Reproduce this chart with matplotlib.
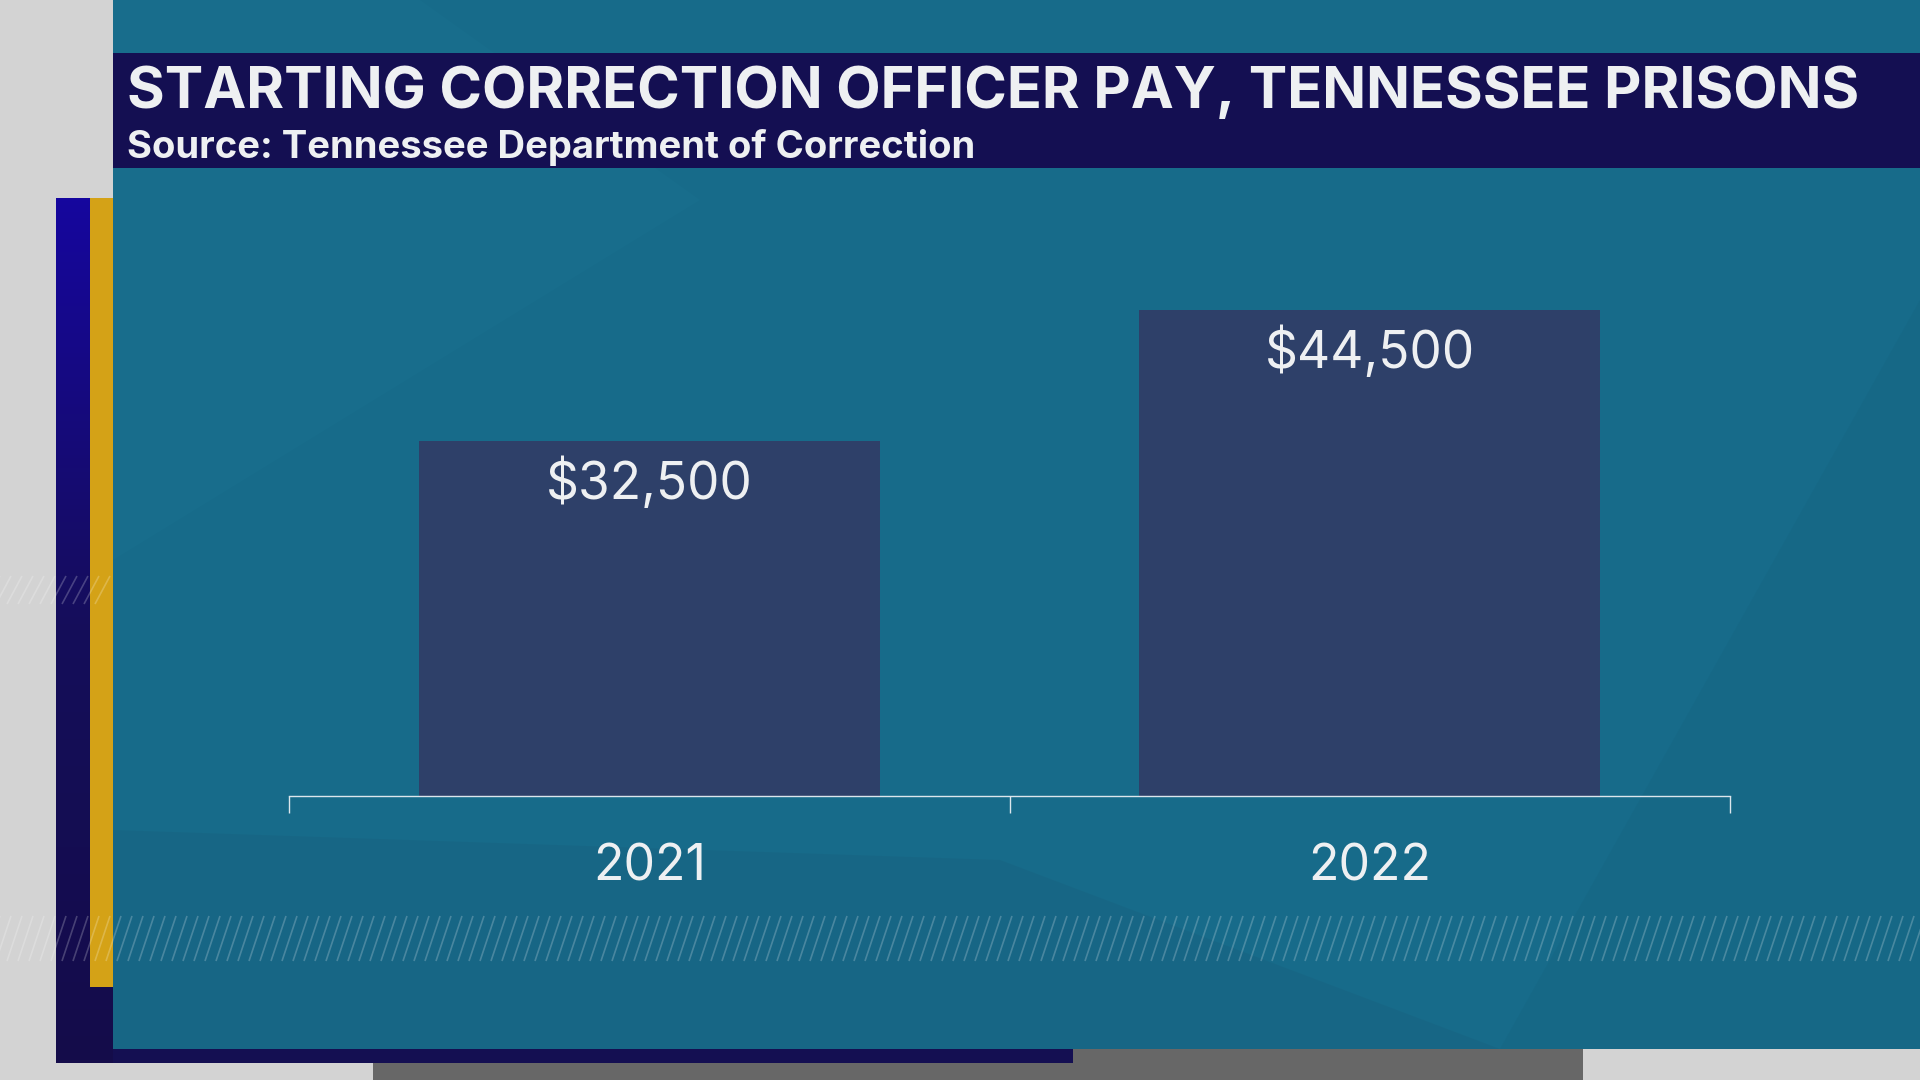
import numpy as np
import matplotlib.pyplot as plt
from matplotlib.patches import Rectangle
from matplotlib.collections import LineCollection
from matplotlib.colors import LinearSegmentedColormap

years = ["2021", "2022"]
pay = [32500, 44500]
pay_labels = ["$32,500", "$44,500"]

title = "STARTING CORRECTION OFFICER PAY, TENNESSEE PRISONS"
subtitle = "Source: Tennessee Department of Correction"

W, H = 1920, 1080
teal = "#176b8a"
navy = "#140f52"
bar_color = "#2e4069"
gold = "#d4a217"
light_gray = "#d3d3d3"
dark_gray = "#676767"
text_color = "#eef0f2"

fig = plt.figure(figsize=(W / 100, H / 100), dpi=100)
fig.patch.set_facecolor(light_gray)

# background / decoration layer in pixel coordinates (y from top)
bg = fig.add_axes([0, 0, 1, 1])
bg.set_xlim(0, W)
bg.set_ylim(H, 0)
bg.axis("off")

bg.add_patch(Rectangle((373, 1049), 1583 - 373, 31, color=dark_gray, lw=0))
bg.add_patch(Rectangle((113, 0), W - 113, 1049, color=teal, lw=0))
# faint shapes in the teal panel
bg.fill([113, 700, 420, 113], [560, 200, 0, 0], color="#1a7391", alpha=0.35, lw=0)
bg.fill([1500, 1920, 1920, 1250], [1049, 300, 1049, 1049], color="#156480", alpha=0.35, lw=0)
bg.fill([113, 1000, 1500, 113], [830, 860, 1049, 1049], color="#175f7c", alpha=0.35, lw=0)

bg.add_patch(Rectangle((56, 1049), 1073 - 56, 14, color=navy, lw=0))
grad = np.linspace(0, 1, 256).reshape(-1, 1)
blue_cmap = LinearSegmentedColormap.from_list("blue", ["#15069e", "#150e5a", "#140c4a"])
bg.imshow(grad, cmap=blue_cmap, extent=(56, 113, 1063, 198), aspect="auto", zorder=2)
bg.add_patch(Rectangle((90, 198), 23, 987 - 198, color=gold, lw=0, zorder=3))

# title band
bg.add_patch(Rectangle((113, 53), W - 113, 115, color=navy, lw=0, zorder=3))
bg.text(127, 93, title, color=text_color, fontsize=41.5, fontweight="bold",
        family="Inter", va="center", ha="left", zorder=4)
bg.text(127, 147, subtitle, color=text_color, fontsize=27.5, fontweight="bold",
        family="Inter", va="center", ha="left", zorder=4)

# diagonal stripe bands
def stripes(x0, x1, y0, y1, step=11, slant=15):
    segs = [[(x, y1), (x + slant, y0)] for x in np.arange(x0 - slant, x1 - slant, step)]
    bg.add_collection(LineCollection(segs, colors="white", alpha=0.22, lw=1.2, zorder=5))

stripes(0, W + 15, 916, 961)
stripes(0, 113, 576, 604)

# chart axes
ax = fig.add_axes([289 / W, 1 - 796 / H, (1730 - 289) / W, (796 - 245) / H])
ax.patch.set_alpha(0)
x = np.arange(len(years))
ax.bar(x, pay, width=0.64, color=bar_color, zorder=2)
ax.set_xlim(-0.5, 1.5)
ax.set_ylim(0, 44500 * 450 / 397)

for xi, v, lab in zip(x, pay, pay_labels):
    ax.annotate(lab, (xi, v), xytext=(0, -31), textcoords="offset points",
                ha="center", va="center", color=text_color, fontsize=37,
                family="Inter")

for s in ["top", "left", "right"]:
    ax.spines[s].set_visible(False)
ax.spines["bottom"].set_color("#dce6ec")
ax.spines["bottom"].set_linewidth(1)
ax.set_yticks([])
ax.set_xticks([-0.5, 0.5, 1.5])
ax.set_xticklabels([])
ax.tick_params(axis="x", which="major", length=12, width=1, color="#dce6ec", direction="out")
ax.set_xticks(x, minor=True)
ax.set_xticklabels(years, minor=True, fontsize=36, color=text_color, family="Inter")
ax.tick_params(axis="x", which="minor", length=0, pad=34)

fig.savefig("out.png", dpi=100, facecolor=fig.get_facecolor())
